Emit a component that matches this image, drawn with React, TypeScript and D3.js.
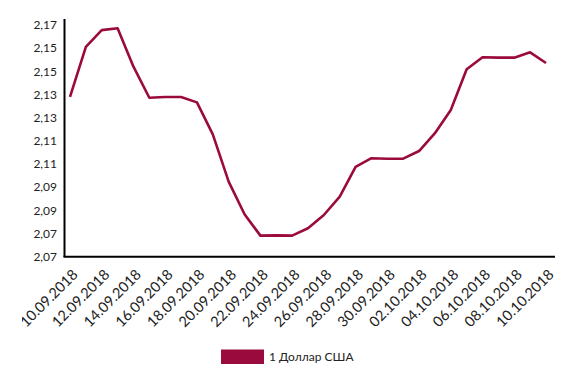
import React from "react";
import * as d3 from "d3";

const dates = [
  "10.09.2018","11.09.2018","12.09.2018","13.09.2018","14.09.2018","15.09.2018","16.09.2018","17.09.2018",
  "18.09.2018","19.09.2018","20.09.2018","21.09.2018","22.09.2018","23.09.2018","24.09.2018","25.09.2018",
  "26.09.2018","27.09.2018","28.09.2018","29.09.2018","30.09.2018","01.10.2018","02.10.2018","03.10.2018",
  "04.10.2018","05.10.2018","06.10.2018","07.10.2018","08.10.2018","09.10.2018","10.10.2018",
];
const usd = [
  2.134, 2.1556, 2.1628, 2.1636, 2.147, 2.1336, 2.1339, 2.1339,
  2.1316, 2.1178, 2.0974, 2.0833, 2.0741, 2.0742, 2.0741, 2.0773,
  2.083, 2.0909, 2.1038, 2.1075, 2.1073, 2.1073, 2.1106, 2.1183,
  2.1283, 2.1459, 2.1511, 2.1509, 2.1509, 2.1532, 2.1486,
];
const yTickValues = [2.065, 2.075, 2.085, 2.095, 2.105, 2.115, 2.125, 2.135, 2.145, 2.155, 2.165];
const yTickLabels = ["2,07","2,07","2,09","2,09","2,11","2,11","2,13","2,13","2,15","2,15","2,17"];
const seriesName = "1 Доллар США";

export default function App() {
  const color = "#9b0a3c";
  const font = "Lato, 'Open Sans', sans-serif";
  const x = d3.scalePoint<number>().domain(d3.range(dates.length)).range([70, 546]);
  const y = d3.scaleLinear().domain([2.065, 2.165]).range([256.7, 25]);
  const line = d3.line<number>().x((_, i) => x(i)!).y((d) => y(d));
  return (
    <svg width={573} height={379} style={{ position: "absolute", left: 0, top: 0, background: "#fff" }}>
      <defs>
        <clipPath id="xlab">
          <rect x={22} y={258} width={551} height={90} />
        </clipPath>
      </defs>
      {yTickValues.map((v, i) => (
        <text key={v} x={57} y={y(v)} dy="0.35em" textAnchor="end" fontFamily={font} fontSize={12} fill="#222">
          {yTickLabels[i]}
        </text>
      ))}
      <line x1={64.5} x2={64.5} y1={19} y2={257} stroke="#000" strokeWidth={2} />
      <line x1={63.5} x2={555} y1={256.7} y2={256.7} stroke="#000" strokeWidth={2} />
      <path d={line(usd)!} fill="none" stroke={color} strokeWidth={2.6} strokeLinejoin="round" />
      <g clipPath="url(#xlab)">
        {dates.map((d, i) =>
          i % 2 === 0 ? (
            <text
              key={d}
              transform={`translate(${x(i)! + 5},${272}) rotate(-45)`}
              textAnchor="end"
              dy="0.35em"
              fontFamily={font}
              fontSize={14.5}
              fill="#222"
            >
              {d}
            </text>
          ) : null
        )}
      </g>
      <rect x={221} y={349.5} width={43} height={14.5} fill={color} />
      <text x={269} y={356.8} dy="0.35em" fontFamily={font} fontSize={12} fill="#222">
        {seriesName}
      </text>
    </svg>
  );
}
